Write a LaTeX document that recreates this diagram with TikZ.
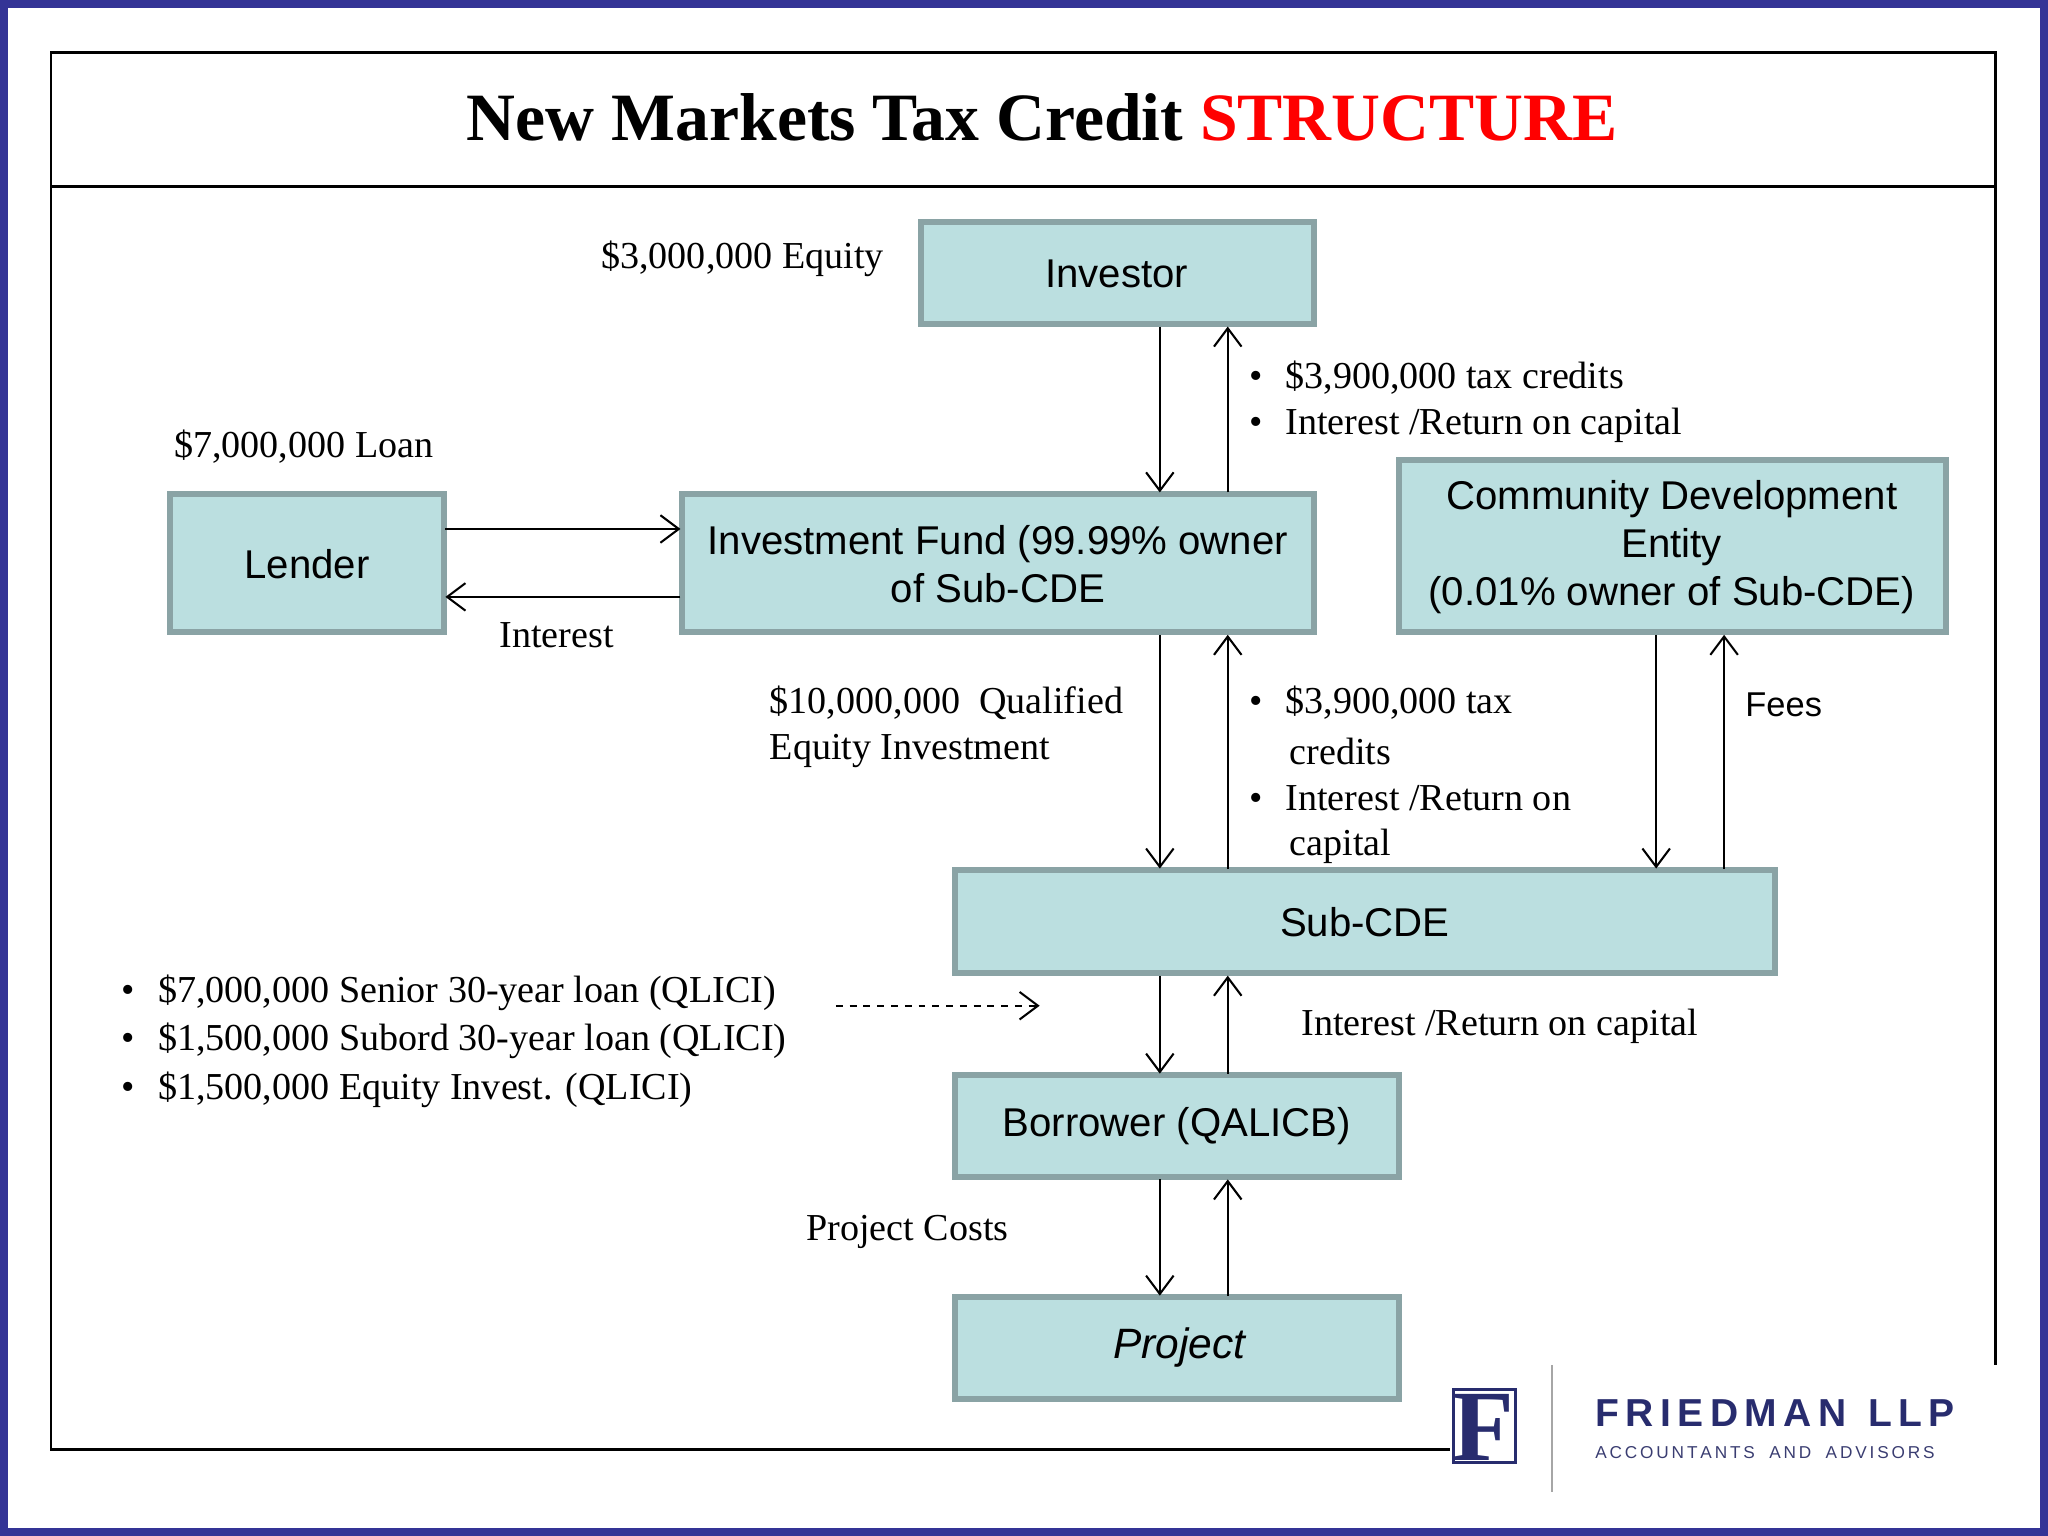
\documentclass[tikz,border=0pt]{standalone}
\usepackage{fontspec}
\setmainfont{Liberation Serif}
\newfontfamily\boxfont{Liberation Sans}
\begin{document}
\begin{tikzpicture}[x=0.02cm,y=-0.02cm,
  bx/.style={draw=boxgray,fill=boxfill,line width=2.5pt},
  bt/.style={font=\boxfont\fontsize{17.5}{21}\selectfont,align=center},
  lb/.style={font=\fontsize{16.6}{20}\selectfont,anchor=west,inner sep=0},
  ar/.style={->,line width=0.9pt,>={Straight Barb[length=8pt,width=12pt]}}]
\usetikzlibrary{arrows.meta}
\definecolor{boxfill}{RGB}{187,223,224}
\definecolor{boxgray}{RGB}{138,163,165}
\definecolor{frameblue}{RGB}{52,52,150}
\definecolor{logoblue}{RGB}{40,44,110}
\useasboundingbox (0,0) rectangle (1568,1176);
\draw[frameblue,line width=5pt] (2,2) rectangle (1566,1174);
\draw[line width=1.2pt] (1110,1110) -- (39,1110) -- (39,40) -- (1528,40) -- (1528,1045);
\draw[line width=1.2pt] (39,143) -- (1528,143);
\node[font=\bfseries\fontsize{29.5}{34}\selectfont] (title) at (798,90) {New Markets Tax Credit \textcolor{red}{STRUCTURE}};
% boxes
\draw[bx] (705,170) rectangle (1006,248); \node[bt] (inv) at (855,210) {Investor};
\draw[bx] (130,378) rectangle (340,484); \node[bt] (len) at (235,432) {Lender};
\draw[bx] (522,378) rectangle (1006,484); \node[bt] (fund) at (764,432) {Investment Fund (99.99\% owner\\of Sub-CDE};
\draw[bx] (1071,352) rectangle (1490,484); \node[bt] (cde) at (1280,419) {Community Development\\Entity\\(0.01\% owner of Sub-CDE)};
\draw[bx] (731,666) rectangle (1359,745); \node[bt] (sub) at (1045,706) {Sub-CDE};
\draw[bx] (731,823) rectangle (1071,901); \node[bt] (bor) at (901,862) {Borrower (QALICB)};
\draw[bx] (731,993) rectangle (1071,1071); \node[bt,font=\boxfont\itshape\fontsize{18.5}{22}\selectfont] (proj) at (903,1032) {Project};
% arrows
\draw[ar] (888,250) -- (888,377); \draw[ar] (940,377) -- (940,250);
\draw[ar] (341,405) -- (521,405); \draw[ar] (521,457) -- (341,457);
\draw[ar] (888,486) -- (888,665); \draw[ar] (940,665) -- (940,486);
\draw[ar] (1268,486) -- (1268,665); \draw[ar] (1320,665) -- (1320,486);
\draw[ar] (888,747) -- (888,822); \draw[ar] (940,822) -- (940,747);
\draw[ar] (888,903) -- (888,992); \draw[ar] (940,992) -- (940,903);
\draw[ar,dashed] (640,770) -- (796,770);
% labels
\node[lb] at (460,198) {\$3,000,000 Equity};
\node[lb] at (133,342) {\$7,000,000 Loan};
\node[lb] at (382,486) {Interest};
\node[lb] at (956,289) {\textbullet\hspace{10pt}\$3,900,000 tax credits};
\node[lb] at (956,326) {\textbullet\hspace{10pt}Interest /Return on capital};
\node[lb] at (589,538) {\$10,000,000\ \ Qualified};
\node[lb] at (589,575) {Equity Investment};
\node[lb] at (956,538) {\textbullet\hspace{10pt}\$3,900,000 tax};
\node[lb] at (987,575) {credits};
\node[lb] at (956,611) {\textbullet\hspace{10pt}Interest /Return on};
\node[lb] at (987,648) {capital};
\node[lb,font=\boxfont\fontsize{15}{18}\selectfont] at (1336,540) {Fees};
\node[lb] at (996,786) {Interest /Return on capital};
\node[lb] at (617,943) {Project Costs};
\node[lb] at (93,760) {\textbullet\hspace{10pt}\$7,000,000 Senior 30-year loan (QLICI)};
\node[lb] at (93,797) {\textbullet\hspace{10pt}\$1,500,000 Subord 30-year loan (QLICI)};
\node[lb] at (93,834) {\textbullet\hspace{10pt}\$1,500,000 Equity Invest. (QLICI)};
% logo
\node[font=\bfseries\fontsize{44}{44}\selectfont,text=logoblue,inner sep=0] (logoF) at (1136,1093) {F};
\draw[logoblue,line width=1.2pt] (1113,1064) rectangle (1160,1120);
\draw[gray!70,line width=0.8pt] (1188,1045) -- (1188,1142);
\node[font=\boxfont\bfseries\fontsize{17}{20}\selectfont,text=logoblue,anchor=west,inner sep=0] (fr) at (1221,1082) {F\,R\,I\,E\,D\,M\,A\,N\ \ L\,L\,P};
\node[font=\boxfont\fontsize{7.5}{8}\selectfont,text=logoblue!80!gray,anchor=west,inner sep=0] (acc) at (1221,1112) {A\,C\,C\,O\,U\,N\,T\,A\,N\,T\,S\ \ \ A\,N\,D\ \ \ A\,D\,V\,I\,S\,O\,R\,S};
\end{tikzpicture}
\end{document}
